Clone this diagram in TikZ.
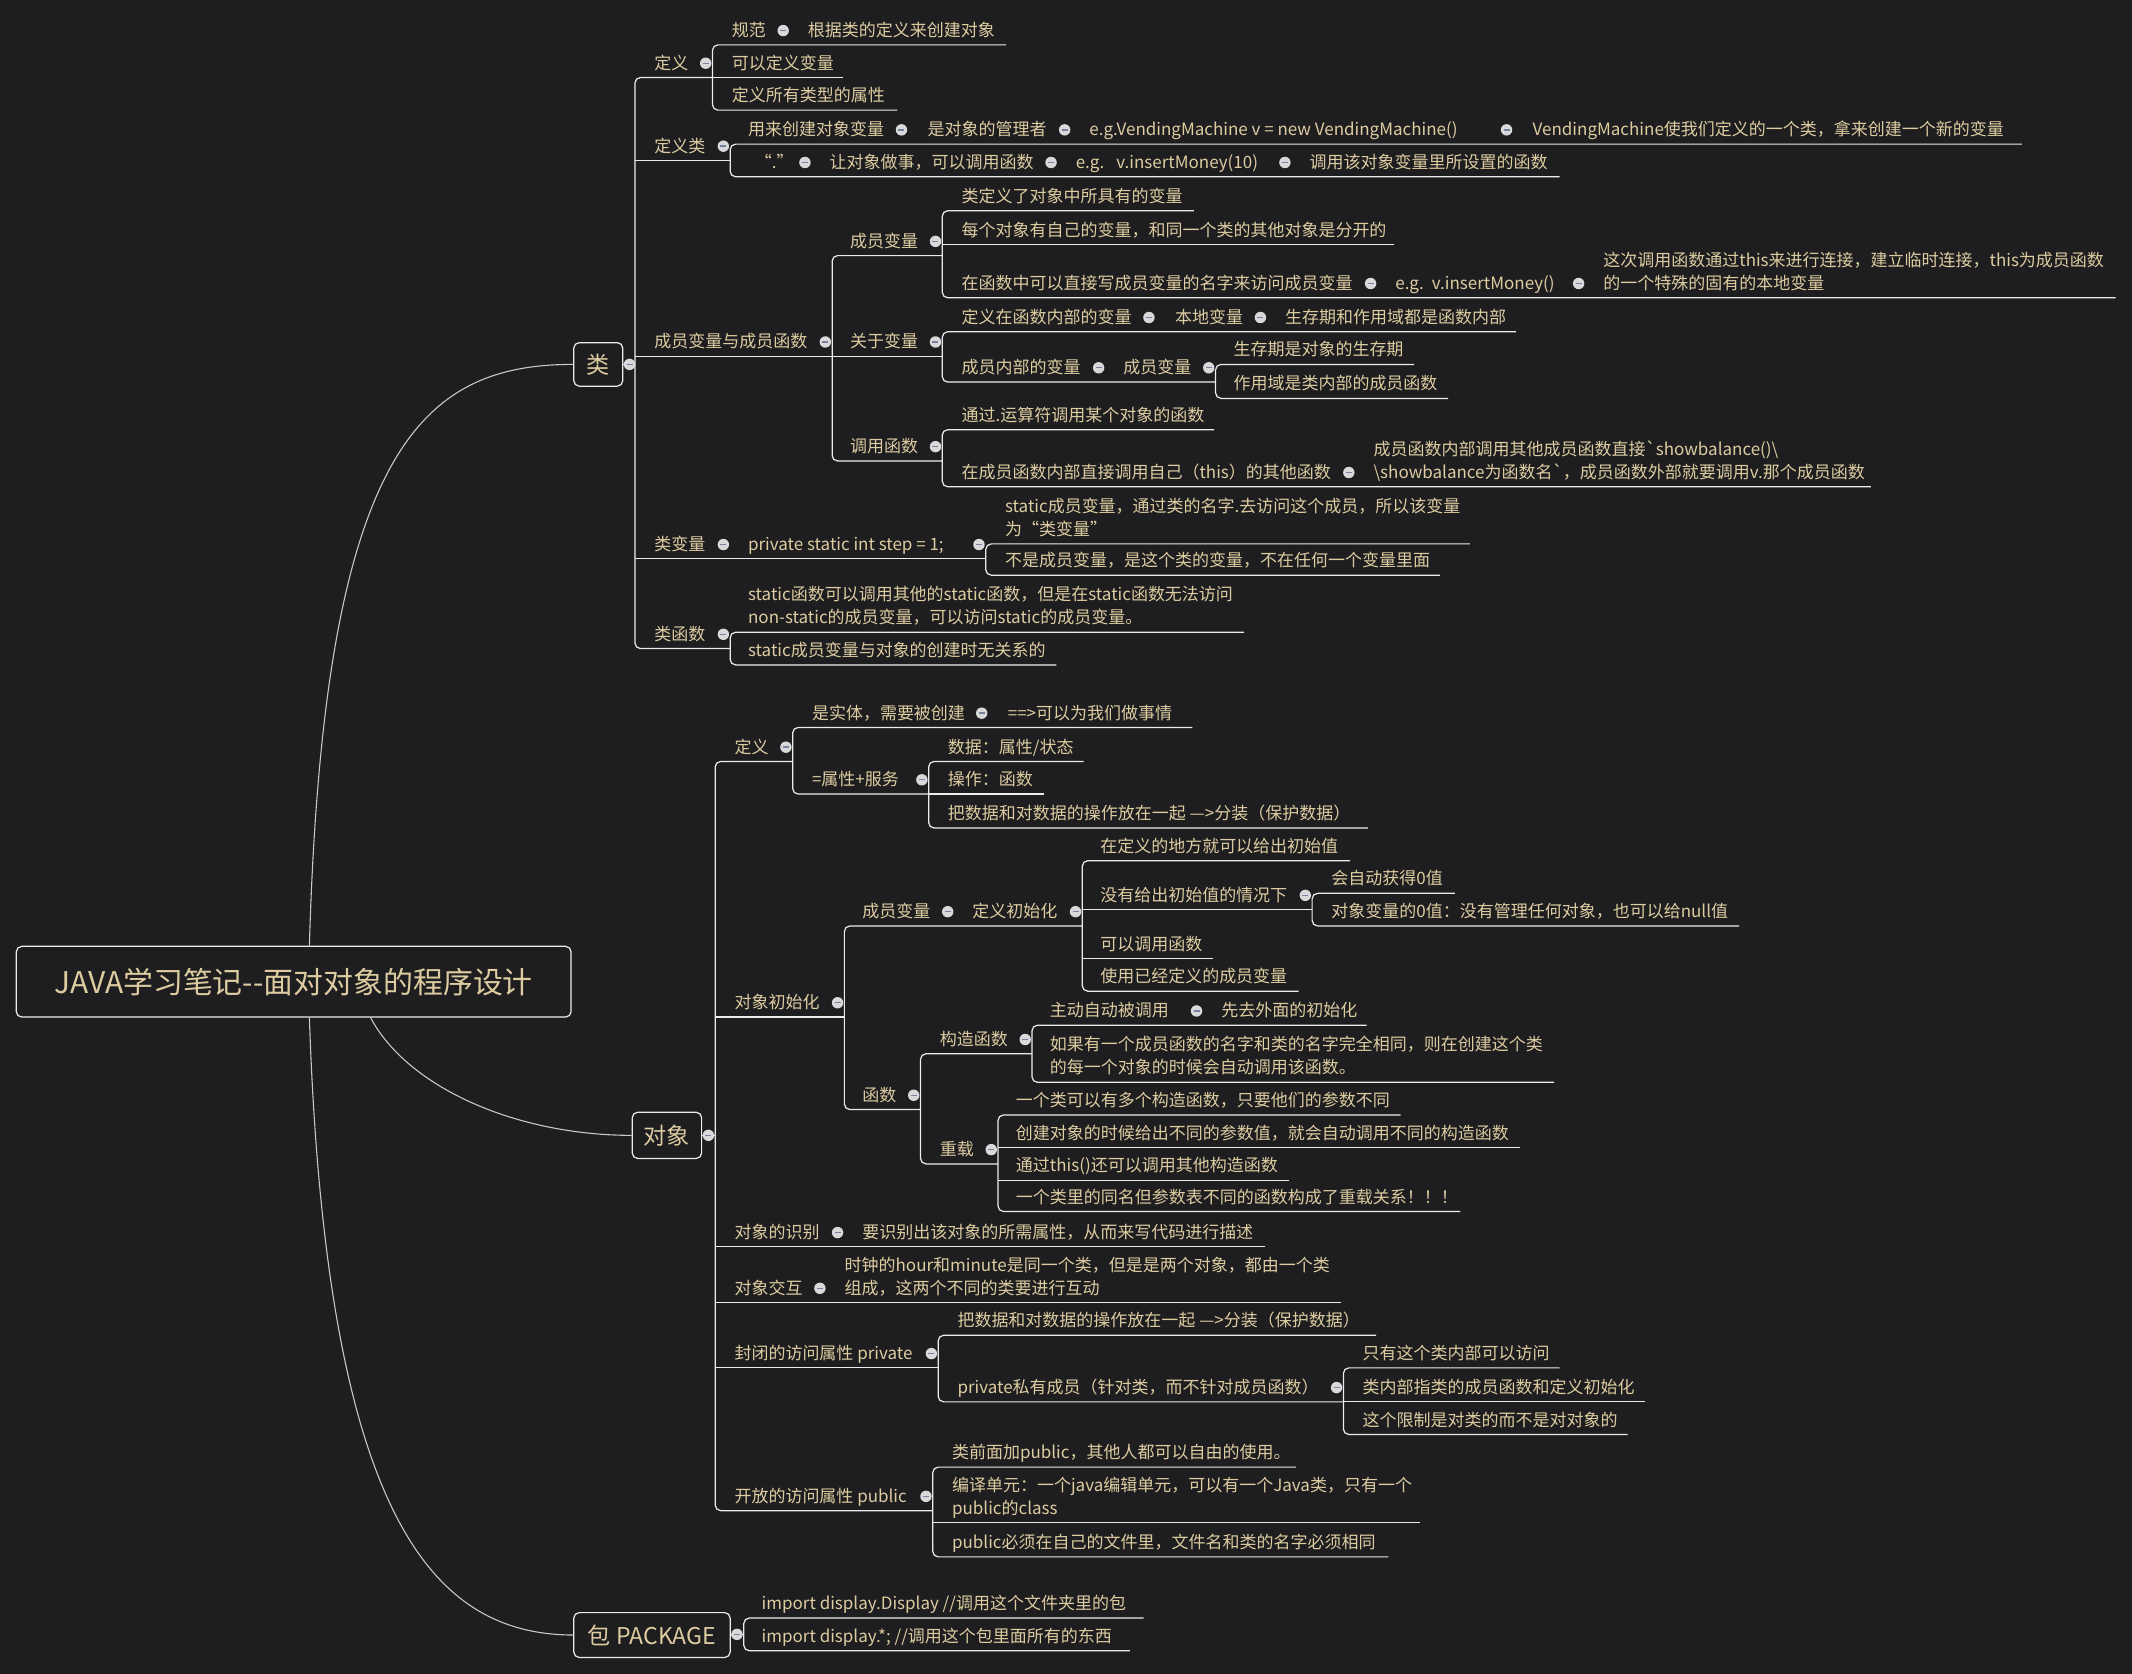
\documentclass[tikz,border=0pt]{standalone}
\usepackage{fontspec}
\newfontfamily\cjk{Noto Sans CJK SC}
\definecolor{bg}{RGB}{30,30,33}
\definecolor{tx}{RGB}{221,204,160}
\definecolor{ln}{RGB}{236,236,236}
\definecolor{mn}{RGB}{120,130,160}
\newcommand\MTopic[4]{\node[lbl] (#1) at (#2,#3-10) {#4};}
\newcommand\MTwo[5]{\node[lbl] (#1a) at (#2,#3-27) {#4};\node[lbl] (#1b) at (#2,#3-10) {#5};}
\newcommand\MDot[2]{\fill[ln!92!black] (#1,#2-10.5) circle (4.2);\draw[mn,line width=1] (#1-2.2,#2-10.5) -- (#1+2.2,#2-10.5);}
\newcommand\MLine[3]{\draw[ul] (#1,#3) -- (#2,#3);}
\newcommand\MBrk[5]{\draw[br] (#3,#2) -- (#1,#2) -- (#1,#4) -- (#5,#4);}
\begin{document}
\begin{tikzpicture}[x=1pt,y=-1pt,
  lbl/.style={anchor=west,inner sep=0,text=tx,font=\cjk\fontsize{12.5}{17}\selectfont,text height=0.88em,text depth=0.12em},
  ul/.style={draw=ln,line width=0.9},
  br/.style={draw=ln,line width=0.9,rounded corners=4},
  box/.style={draw=ln,line width=0.9,rounded corners=4,fill=bg,text=tx,inner sep=0,font=\cjk\fontsize{17}{20}\selectfont},
  curve/.style={draw=ln!85!black,line width=0.8}]
\fill[bg] (0,0) rectangle (1568,1231);
\useasboundingbox (0,0) rectangle (1568,1231);

% ---------- root and main branches ----------
\node[box,minimum width=408,minimum height=52,font=\cjk\fontsize{22}{26}\selectfont] (root) at (216,722) {JAVA学习笔记-\kern0pt-面对对象的程序设计};
\node[box,minimum width=36,minimum height=32] (lei) at (440,268) {类};
\node[box,minimum width=51,minimum height=34] (obj) at (490.5,835) {对象};
\node[box,minimum width=115,minimum height=33] (pkg) at (479.5,1202.5) {包 PACKAGE};
\draw[curve] ([xshift=216]root.north west) .. controls (238,330) and (310,268) .. (lei.west);
\draw[curve] ([xshift=261]root.south west) .. controls (300,800) and (380,835) .. (obj.west);
\draw[curve] ([xshift=216]root.south west) .. controls (240,1120) and (320,1202) .. (pkg.west);
\draw[ul] (lei.east) -- (467,268);
\draw[ul] (obj.east) -- (526,835);
\draw[ul] (pkg.east) -- (547,1202);

% ---------- 类 ----------
\MBrk{467}{57}{524}{477}{537}
\MLine{467}{537}{118}
\MLine{467}{612}{262}
\MLine{467}{725}{411}
% 定义
\MBrk{524}{33}{740}{81}{660}
\MLine{524}{620}{57}
% 定义类
\MBrk{537}{106}{1487}{130}{1147}
% 成员变量与成员函数
\MBrk{612}{188}{693}{339}{693}
\MLine{612}{693}{262}
\MBrk{693}{155}{878}{219}{1556}
\MLine{693}{1025}{180}
\MBrk{693}{244}{1115}{281}{894}
\MBrk{894}{268}{1040}{293}{1065}
\MBrk{693}{316}{893}{358}{1376}
% 类变量
\MBrk{725}{400}{1081}{423}{1059}
% 类函数
\MBrk{537}{465}{915}{489}{777}

% ---------- 对象 ----------
\MBrk{526}{560}{583}{1111}{686}
\MLine{526}{621}{748}
\MLine{526}{930}{917}
\MLine{526}{986}{958}
\MLine{526}{690}{1006}
\MBrk{583}{535}{877}{584}{683}
\MBrk{683}{560}{797}{609}{1006}
\MLine{683}{768}{584}
\MBrk{621}{681}{796}{816}{677}
\MBrk{796}{633}{993}{729}{955}
\MLine{796}{965}{669}
\MLine{796}{892}{705}
\MBrk{965}{657}{1070}{681}{1279}
\MBrk{677}{775}{759}{856}{734}
\MBrk{759}{754}{1005}{796}{1143}
\MBrk{734}{820}{1030}{891}{1074}
\MLine{734}{1118}{844}
\MLine{734}{948}{868}
\MBrk{690}{982}{1012}{1031}{988}
\MBrk{988}{1006}{1147}{1055}{1197}
\MLine{988}{1210}{1031}
\MBrk{686}{1079}{953}{1145}{1021}
\MLine{686}{1044}{1120}

% ---------- 包 ----------
\MBrk{547}{1190}{841}{1214}{831}

% ---------- dots ----------
\fill[ln!92!black] (463,268) circle (4.2);\draw[mn,line width=1] (460.8,268) -- (465.2,268);
\fill[ln!92!black] (521,835) circle (4.2);\draw[mn,line width=1] (518.8,835) -- (523.2,835);
\fill[ln!92!black] (542,1202) circle (4.2);\draw[mn,line width=1] (539.8,1202) -- (544.2,1202);
\MDot{519}{57}\MDot{576}{33}
\MDot{532}{118}\MDot{663}{106}\MDot{783}{106}\MDot{1108}{106}
\MDot{592}{130}\MDot{773}{130}\MDot{945}{130}
\MDot{607}{262}\MDot{688}{188}\MDot{1008}{219}\MDot{1161}{219}
\MDot{688}{262}\MDot{845}{244}\MDot{927}{244}\MDot{808}{281}\MDot{889}{281}
\MDot{688}{339}\MDot{992}{358}
\MDot{532}{411}\MDot{720}{411}\MDot{532}{477}
\MDot{578}{560}\MDot{722}{535}\MDot{678}{584}
\MDot{616}{748}\MDot{697}{681}\MDot{791}{681}\MDot{960}{669}
\MDot{672}{816}\MDot{754}{775}\MDot{880}{754}\MDot{729}{856}
\MDot{616}{917}\MDot{603}{958}\MDot{685}{1006}\MDot{983}{1031}\MDot{681}{1111}

% ---------- texts: 类 ----------
\MTopic{a1}{481}{57}{定义}
\MTopic{a11}{538}{33}{规范}
\MTopic{a111}{594}{33}{根据类的定义来创建对象}
\MTopic{a12}{538}{57}{可以定义变量}
\MTopic{a13}{538}{81}{定义所有类型的属性}
\MTopic{a2}{481}{118}{定义类}
\MTopic{a21}{550}{106}{用来创建对象变量}
\MTopic{a211}{682}{106}{是对象的管理者}
\MTopic{a212}{801}{106}{e.g.VendingMachine v = new VendingMachine()}
\MTopic{a213}{1127}{106}{VendingMachine使我们定义的一个类，拿来创建一个新的变量}
\MTopic{a22}{555}{130}{“.”}
\MTopic{a221}{610}{130}{让对象做事，可以调用函数}
\MTopic{a222}{791}{130}{e.g.\hspace{9pt}v.insertMoney(10)}
\MTopic{a223}{963}{130}{调用该对象变量里所设置的函数}
\MTopic{a3}{481}{262}{成员变量与成员函数}
\MTopic{a31}{625}{188}{成员变量}
\MTopic{a311}{707}{155}{类定义了对象中所具有的变量}
\MTopic{a312}{707}{180}{每个对象有自己的变量，和同一个类的其他对象是分开的}
\MTopic{a313}{707}{219}{在函数中可以直接写成员变量的名字来访问成员变量}
\MTopic{a3131}{1026}{219}{e.g.\hspace{6pt}v.insertMoney()}
\MTwo{a3132}{1179}{219}{这次调用函数通过this来进行连接，建立临时连接，this为成员函数}{的一个特殊的固有的本地变量}
\MTopic{a32}{625}{262}{关于变量}
\MTopic{a321}{707}{244}{定义在函数内部的变量}
\MTopic{a3211}{864}{244}{本地变量}
\MTopic{a3212}{945}{244}{生存期和作用域都是函数内部}
\MTopic{a322}{707}{281}{成员内部的变量}
\MTopic{a3221}{826}{281}{成员变量}
\MTopic{a3222}{907}{268}{生存期是对象的生存期}
\MTopic{a3223}{907}{293}{作用域是类内部的成员函数}
\MTopic{a33}{625}{339}{调用函数}
\MTopic{a331}{707}{316}{通过.运算符调用某个对象的函数}
\MTopic{a332}{707}{358}{在成员函数内部直接调用自己（this）的其他函数}
\MTwo{a3321}{1010}{358}{成员函数内部调用其他成员函数直接\textasciigrave showbalance()\textbackslash}{\textbackslash showbalance为函数名\textasciigrave，成员函数外部就要调用v.那个成员函数}
\MTopic{a4}{481}{411}{类变量}
\MTopic{a41}{550}{411}{private static int step = 1;}
\MTwo{a411}{739}{400}{static成员变量，通过类的名字.去访问这个成员，所以该变量}{为“类变量”}
\MTopic{a412}{739}{423}{不是成员变量，是这个类的变量，不在任何一个变量里面}
\MTopic{a5}{481}{477}{类函数}
\MTwo{a51}{550}{465}{static函数可以调用其他的static函数，但是在static函数无法访问}{non-static的成员变量，可以访问static的成员变量。}
\MTopic{a52}{550}{489}{static成员变量与对象的创建时无关系的}

% ---------- texts: 对象 ----------
\MTopic{b1}{540}{560}{定义}
\MTopic{b11}{597}{535}{是实体，需要被创建}
\MTopic{b111}{741}{535}{==>可以为我们做事情}
\MTopic{b12}{597}{584}{=属性+服务}
\MTopic{b121}{697}{560}{数据：属性/状态}
\MTopic{b122}{697}{584}{操作：函数}
\MTopic{b123}{697}{609}{把数据和对数据的操作放在一起 —>分装（保护数据）}
\MTopic{b2}{540}{748}{对象初始化}
\MTopic{b21}{634}{681}{成员变量}
\MTopic{b211}{715}{681}{定义初始化}
\MTopic{b2111}{809}{633}{在定义的地方就可以给出初始值}
\MTopic{b2112}{809}{669}{没有给出初始值的情况下}
\MTopic{b21121}{979}{657}{会自动获得0值}
\MTopic{b21122}{979}{681}{对象变量的0值：没有管理任何对象，也可以给null值}
\MTopic{b2113}{809}{705}{可以调用函数}
\MTopic{b2114}{809}{729}{使用已经定义的成员变量}
\MTopic{b22}{634}{816}{函数}
\MTopic{b221}{691}{775}{构造函数}
\MTopic{b2211}{772}{754}{主动自动被调用}
\MTopic{b22111}{898}{754}{先去外面的初始化}
\MTwo{b2212}{772}{796}{如果有一个成员函数的名字和类的名字完全相同，则在创建这个类}{的每一个对象的时候会自动调用该函数。}
\MTopic{b222}{691}{856}{重载}
\MTopic{b2221}{747}{820}{一个类可以有多个构造函数，只要他们的参数不同}
\MTopic{b2222}{747}{844}{创建对象的时候给出不同的参数值，就会自动调用不同的构造函数}
\MTopic{b2223}{747}{868}{通过this()还可以调用其他构造函数}
\MTopic{b2224}{747}{891}{一个类里的同名但参数表不同的函数构成了重载关系！！！}
\MTopic{b3}{540}{917}{对象的识别}
\MTopic{b31}{634}{917}{要识别出该对象的所需属性，从而来写代码进行描述}
\MTopic{b4}{540}{958}{对象交互}
\MTwo{b41}{621}{958}{时钟的hour和minute是同一个类，但是是两个对象，都由一个类}{组成，这两个不同的类要进行互动}
\MTopic{b5}{540}{1006}{封闭的访问属性 private}
\MTopic{b51}{704}{982}{把数据和对数据的操作放在一起 —>分装（保护数据）}
\MTopic{b52}{704}{1031}{private私有成员（针对类，而不针对成员函数）}
\MTopic{b521}{1002}{1006}{只有这个类内部可以访问}
\MTopic{b522}{1002}{1031}{类内部指类的成员函数和定义初始化}
\MTopic{b523}{1002}{1055}{这个限制是对类的而不是对对象的}
\MTopic{b6}{540}{1111}{开放的访问属性 public}
\MTopic{b61}{700}{1079}{类前面加public，其他人都可以自由的使用。}
\MTwo{b62}{700}{1120}{编译单元：一个java编辑单元，可以有一个Java类，只有一个}{public的class}
\MTopic{b63}{700}{1145}{public必须在自己的文件里，文件名和类的名字必须相同}

% ---------- texts: 包 ----------
\MTopic{c1}{560}{1190}{import display.Display //调用这个文件夹里的包}
\MTopic{c2}{560}{1214}{import display.*; //调用这个包里面所有的东西}
\end{tikzpicture}
\end{document}
